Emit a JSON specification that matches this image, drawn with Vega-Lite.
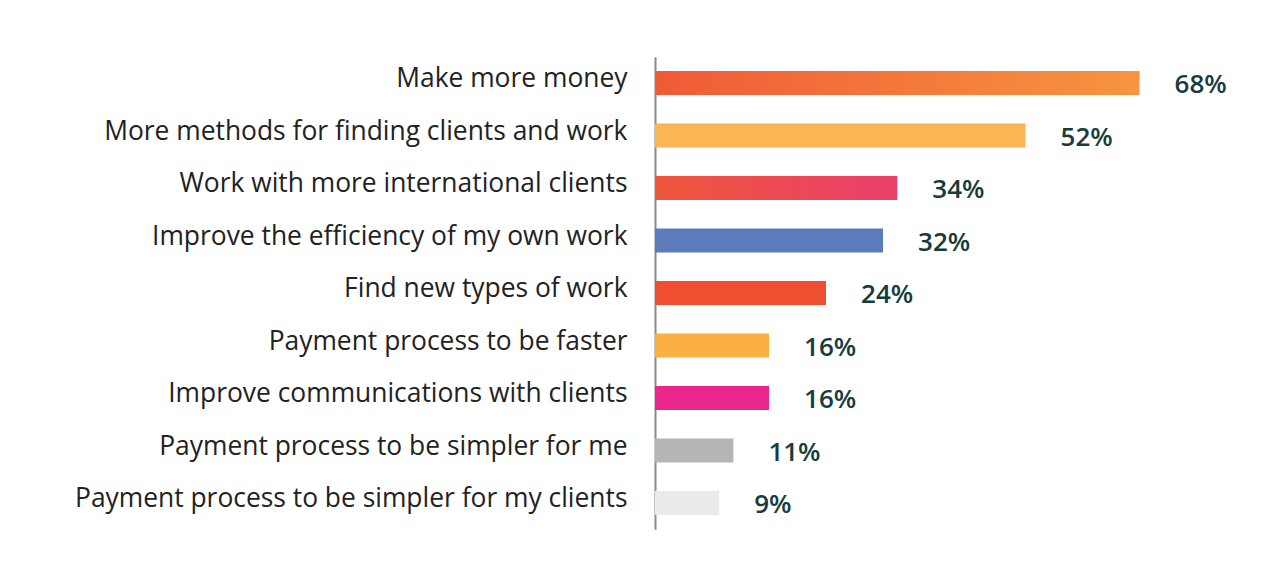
{
  "$schema": "https://vega.github.io/schema/vega-lite/v6.json",
  "autosize": {"type": "none"},
  "width": 600,
  "height": 472.5,
  "padding": {"left": 655, "top": 56.75, "right": 33, "bottom": 59},
  "background": "white",
  "config": {"view": {"stroke": null}},
  "data": {
    "values": [
      {"q": "Make more money", "v": 0.68},
      {"q": "More methods for finding clients and work", "v": 0.52},
      {"q": "Work with more international clients", "v": 0.34},
      {"q": "Improve the efficiency of my own work", "v": 0.32},
      {"q": "Find new types of work", "v": 0.24},
      {"q": "Payment process to be faster", "v": 0.16},
      {"q": "Improve communications with clients", "v": 0.16},
      {"q": "Payment process to be simpler for me", "v": 0.11},
      {"q": "Payment process to be simpler for my clients", "v": 0.09}
    ]
  },
  "encoding": {
    "y": {
      "field": "q", "type": "nominal", "sort": null,
      "scale": {"paddingInner": 0.543, "paddingOuter": 0.2715},
      "axis": {
        "title": null, "ticks": false, "domain": true, "domainColor": "#8a8a8a", "domainWidth": 2,
        "labelFont": "Open Sans", "labelFontSize": 26.4, "labelColor": "#222222",
        "labelPadding": 28, "labelOffset": -4, "labelLimit": 700, "grid": false
      }
    },
    "x": {
      "field": "v", "type": "quantitative",
      "scale": {"domain": [0, 0.842], "nice": false},
      "axis": null
    }
  },
  "layer": [
    {
      "mark": {"type": "bar"},
      "encoding": {
        "fill": {
          "condition": [
            {"test": "datum.q === 'Make more money'", "value": {"gradient": "linear", "x1": 0, "y1": 0, "x2": 1, "y2": 0, "stops": [{"offset": 0, "color": "#F05A37"}, {"offset": 1, "color": "#F6953F"}]}},
            {"test": "datum.q === 'Work with more international clients'", "value": {"gradient": "linear", "x1": 0, "y1": 0, "x2": 1, "y2": 0, "stops": [{"offset": 0, "color": "#EF563B"}, {"offset": 1, "color": "#E93F6B"}]}}
          ],
          "field": "q", "type": "nominal", "legend": null,
          "scale": {
            "domain": ["More methods for finding clients and work", "Improve the efficiency of my own work", "Find new types of work", "Payment process to be faster", "Improve communications with clients", "Payment process to be simpler for me", "Payment process to be simpler for my clients"],
            "range": ["#F9B653", "#5B7BBA", "#EF4E31", "#F9AF41", "#EA258C", "#B5B5B5", "#EBEBEB"]
          }
        }
      }
    },
    {
      "mark": {"type": "text", "align": "left", "baseline": "middle", "dx": 35, "dy": 2, "font": "Open Sans", "fontSize": 26, "fontWeight": 600, "color": "#163C3C"},
      "encoding": {"text": {"field": "v", "type": "quantitative", "format": ".0%"}}
    }
  ]
}
